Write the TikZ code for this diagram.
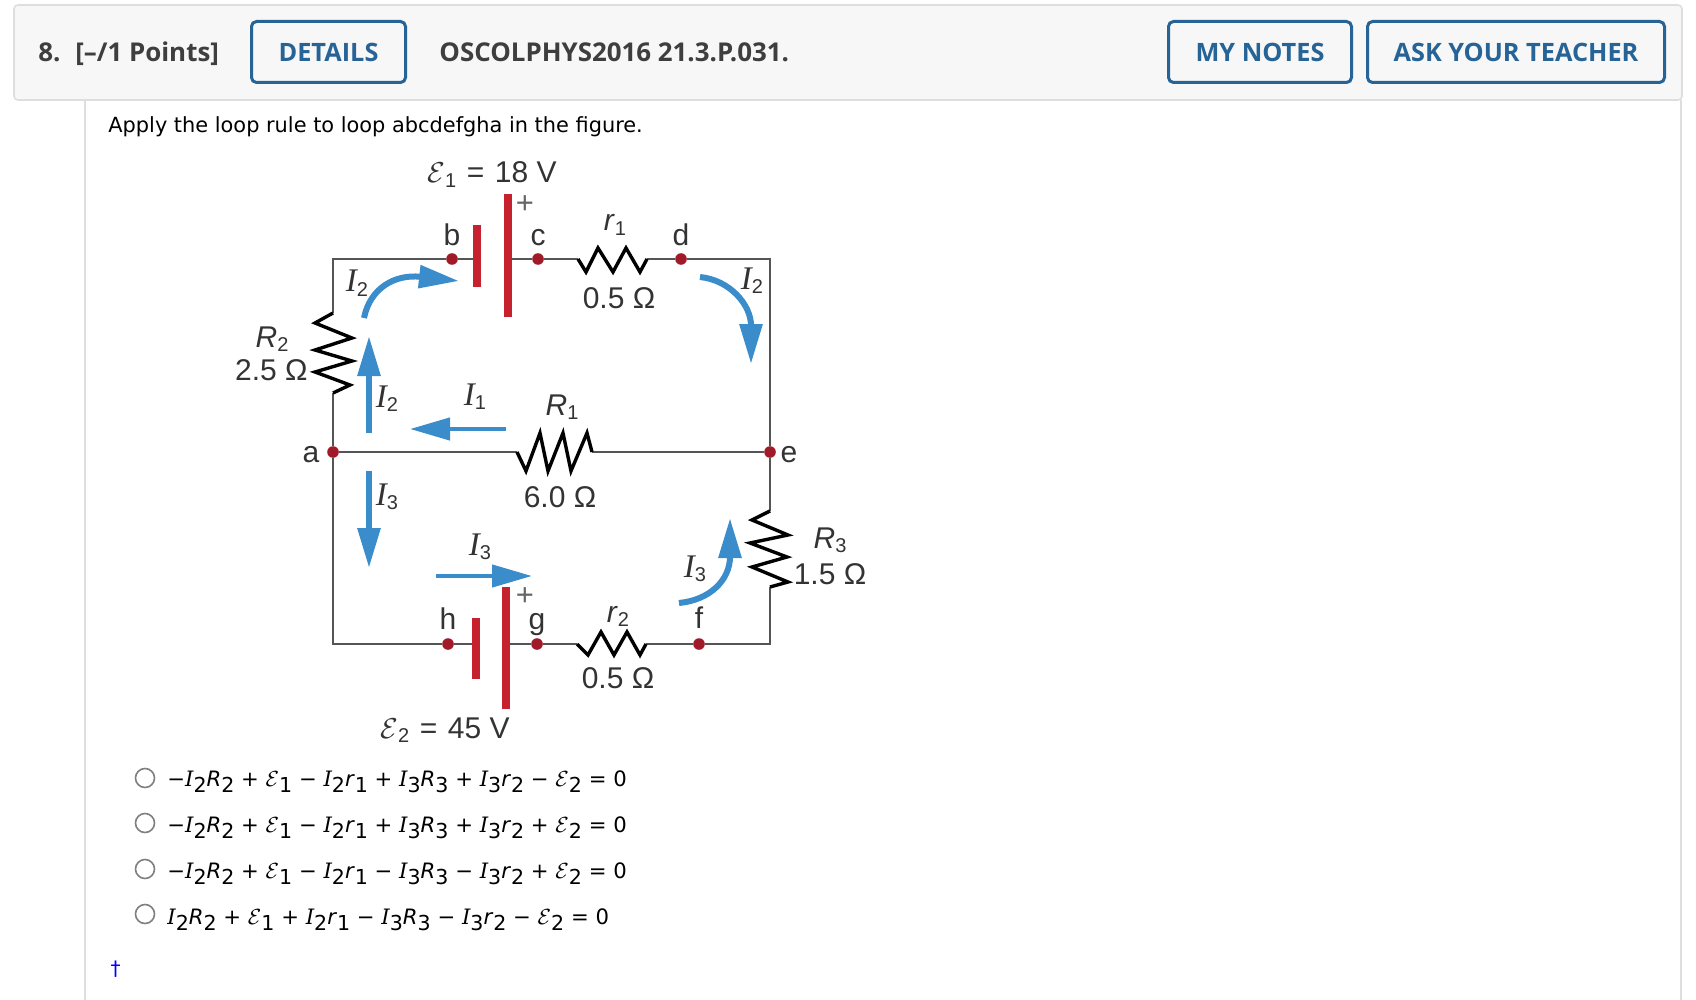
\documentclass[tikz,border=0pt]{standalone}
\usepackage{fontspec}
\setmainfont{Liberation Sans}
\newfontfamily\headfont{Open Sans}
\newfontfamily\bodyfont{DejaVu Sans}
\newfontfamily\eqIfont{DejaVu Serif}
\newfontfamily\labIfont{Liberation Serif}
\usetikzlibrary{arrows.meta}
\definecolor{panelgray}{HTML}{F7F7F7}
\definecolor{edgegray}{HTML}{DEDEDE}
\definecolor{btnblue}{HTML}{266396}
\definecolor{headgray}{HTML}{3E3E3E}
\definecolor{wiregray}{HTML}{555555}
\definecolor{platered}{HTML}{C5212F}
\definecolor{dotred}{HTML}{A11A2A}
\definecolor{currblue}{HTML}{3A8CCB}
\newcommand{\labsub}[1]{\raisebox{-0.3ex}{\fontsize{10}{11}\selectfont #1}}
\newcommand{\eqsub}[1]{\raisebox{-0.6ex}{\fontsize{10.3}{11}\selectfont #1}}
\newcommand{\scrE}{\ensuremath{\mathcal{E}}}
\newcommand{\labI}[1]{{\labIfont\itshape\fontsize{16.5}{17}\selectfont I}\labsub{#1}}
\newcommand{\Ieq}[1]{{\eqIfont\itshape I}\eqsub{#1}}
\newcommand{\Req}[1]{\textit{R}\eqsub{#1}}
\newcommand{\req}[1]{\textit{r}\eqsub{#1}}
\newcommand{\Eeq}[1]{\scrE\eqsub{#1}}
\begin{document}
\begin{tikzpicture}[x=0.5pt,y=-0.5pt,
  wire/.style={draw=wiregray,line width=1.35pt},
  zig/.style={draw=black,line width=1.7pt,line join=miter},
  dot/.style={circle,fill=dotred,minimum size=5.8pt,inner sep=0pt},
  plate/.style={rectangle,fill=platered,minimum width=4pt,inner sep=0pt},
  curr/.style={draw=currblue,line width=3pt,-{Triangle[length=20pt,width=11pt]}},
  lbl/.style={font=\fontsize{15}{16}\selectfont,text=black!80,inner sep=0pt},
  plusmark/.style={font=\fontsize{15.5}{16}\selectfont,text=black!60,inner sep=0pt},
  btn/.style={draw=btnblue,line width=1.5pt,rounded corners=2.5pt,text=btnblue,inner sep=0pt,
    minimum height=30.5pt,font=\headfont\bfseries\fontsize{12.65}{14}\selectfont},
  head/.style={anchor=base west,text=headgray,inner sep=0pt,font=\headfont\bfseries\fontsize{12.95}{14}\selectfont},
  eqn/.style={anchor=base west,inner sep=0pt,font=\bodyfont\fontsize{10.6}{13}\selectfont},
  radio/.style={circle,draw=black!50,line width=0.8pt,fill=white,minimum size=9.5pt,inner sep=0pt}]

  \useasboundingbox (0,0) rectangle (1696,1000);

  \draw[edgegray,line width=0.8pt] (85,100) -- (85,1000);
  \draw[edgegray,line width=0.8pt] (1681,100) -- (1681,1000);
  \draw[edgegray,fill=panelgray,line width=0.8pt,rounded corners=2pt] (14,5) rectangle (1682,100);

  \node[head] (qnum) at (38,62) {8.\hspace{0.57em}[–/1 Points]};
  \node[btn,minimum width=77pt] (details) at (328.5,52) {DETAILS};
  \node[head] (qcode) at (439,62) {OSCOLPHYS2016 21.3.P.031.};
  \node[btn,minimum width=91.5pt] (mynotes) at (1260,52) {MY NOTES};
  \node[btn,minimum width=148.5pt] (askteacher) at (1516,52) {ASK YOUR TEACHER};

  \node[anchor=base west,inner sep=0pt,font=\bodyfont\fontsize{10.44}{13}\selectfont] (prompt) at (108,133)
    {Apply the loop rule to loop abcdefgha in the figure.};

  \node[dot] (b) at (452,259) {};
  \node[dot] (c) at (538,259) {};
  \node[dot] (d) at (681,259) {};
  \node[dot] (a) at (333,452) {};
  \node[dot] (e) at (770,452) {};
  \node[dot] (f) at (699,644) {};
  \node[dot] (g) at (537,644) {};
  \node[dot] (h) at (448,644) {};

  \node[plate,minimum height=31pt] (minus1) at (477,256) {};
  \node[plate,minimum height=61.5pt] (plus1) at (508,255.5) {};
  \node[plate,minimum height=30.5pt] (minus2) at (476,648.5) {};
  \node[plate,minimum height=61pt] (plus2) at (506,648) {};

  \coordinate (R2in) at (333,393);
  \coordinate (R2out) at (333,313);
  \coordinate (r1in) at (578,259);
  \coordinate (r1out) at (647,259);
  \coordinate (R1in) at (517,452);
  \coordinate (R1out) at (592,452);
  \coordinate (R3in) at (770,511);
  \coordinate (R3out) at (770,587);
  \coordinate (r2in) at (646,644);
  \coordinate (r2out) at (577,644);
  \coordinate (cornerbr) at (770,644);
  \coordinate (cornerbl) at (333,644);

  \draw[wire] (a) -- (R2in);
  \draw[wire] (R2out) |- (b);
  \draw[wire] (b) -- (b -| minus1.west);
  \draw[wire] (plus1.east |- c) -- (c);
  \draw[wire] (c) -- (r1in);
  \draw[wire] (r1out) -- (d);
  \draw[wire] (d) -| (e);
  \draw[wire] (e) -- (R1out);
  \draw[wire] (R1in) -- (a);
  \draw[wire] (e) -- (R3in);
  \draw[wire] (R3out) -- (cornerbr) -- (f);
  \draw[wire] (f) -- (r2in);
  \draw[wire] (r2out) -- (g);
  \draw[wire] (g) -- (g -| plus2.east);
  \draw[wire] (minus2.west |- h) -- (h);
  \draw[wire] (h) -- (cornerbl) -- (a);

  \draw[zig] (R2in) -- ++(17,-8) -- ++(-35,-13) -- ++(37,-11) -- ++(-37,-11) -- ++(37,-12) -- ++(-37,-15) -- (R2out);
  \draw[zig] (r1in) -- ++(8,13) -- ++(12,-24) -- ++(15,24) -- ++(13,-24) -- ++(14,24) -- (r1out);
  \draw[zig] (R1in) -- ++(9,19) -- ++(14,-38) -- ++(8,38) -- ++(15,-38) -- ++(8,38) -- ++(16,-38) -- (R1out);
  \draw[zig] (R3in) -- ++(-18,9) -- ++(36,15) -- ++(-38,8) -- ++(37,14) -- ++(-35,10) -- ++(36,15) -- (R3out);
  \draw[zig] (r2in) -- ++(-6,11) -- ++(-13,-23) -- ++(-13,23) -- ++(-13,-23) -- ++(-13,23) -- (r2out);

  \coordinate (arrTLs) at (364,318);
  \coordinate (arrTLe) at (459,281);
  \coordinate (arrI2s) at (369,433);
  \coordinate (arrI2e) at (369,336);
  \coordinate (arrI1s) at (506,429);
  \coordinate (arrI1e) at (410,429);
  \coordinate (arrTRs) at (700,277);
  \coordinate (arrTRe) at (751,364);
  \coordinate (arrI3s) at (369,471);
  \coordinate (arrI3e) at (369,568);
  \coordinate (arrBMs) at (436,576);
  \coordinate (arrBMe) at (532,576);
  \coordinate (arrBRs) at (679,603);
  \coordinate (arrBRe) at (730,518);

  \draw[curr] (arrTLs) .. controls (370,288) and (395,274) .. (arrTLe);
  \draw[curr] (arrI2s) -- (arrI2e);
  \draw[curr,line width=2.2pt] (arrI1s) -- (arrI1e);
  \draw[curr] (arrTRs) .. controls (730,280) and (751,305) .. (arrTRe);
  \draw[curr] (arrI3s) -- (arrI3e);
  \draw[curr,line width=2.2pt] (arrBMs) -- (arrBMe);
  \draw[curr] (arrBRs) .. controls (710,600) and (730,580) .. (arrBRe);

  \node[lbl,anchor=base] (labE1) at (492,183) {\scrE\labsub{1}\hspace{0.35em}=\hspace{0.35em}18 V};
  \node[plusmark] (plusone) at (525,205) {+};
  \node[lbl,anchor=base] (labb) at (452,246) {b};
  \node[lbl,anchor=base] (labc) at (538,246) {c};
  \node[lbl,anchor=base] (labd) at (681,246) {d};
  \node[lbl,anchor=base] (labr1) at (615,231) {\textit{r}\labsub{1}};
  \node[lbl,anchor=base] (valr1) at (619,308) {0.5 Ω};
  \node[lbl,anchor=base] (labI2a) at (357,292) {\labI{2}};
  \node[lbl,anchor=base] (labI2b) at (387,407) {\labI{2}};
  \node[lbl,anchor=base] (labI2c) at (752,289) {\labI{2}};
  \node[lbl,anchor=base] (labI1) at (475,405) {\labI{1}};
  \node[lbl,anchor=base] (labR1) at (562,415) {\textit{R}\labsub{1}};
  \node[lbl,anchor=base] (labR2) at (272,347) {\textit{R}\labsub{2}};
  \node[lbl,anchor=base east] (valR2) at (308,380) {2.5 Ω};
  \node[lbl,anchor=base] (laba) at (311,462) {a};
  \node[lbl,anchor=base] (labe) at (789,462) {e};
  \node[lbl,anchor=base] (valR1) at (560,507) {6.0 Ω};
  \node[lbl,anchor=base] (labI3a) at (387,505) {\labI{3}};
  \node[lbl,anchor=base] (labI3b) at (480,555) {\labI{3}};
  \node[lbl,anchor=base] (labI3c) at (695,577) {\labI{3}};
  \node[lbl,anchor=base] (labR3) at (830,548) {\textit{R}\labsub{3}};
  \node[lbl,anchor=base] (valR3) at (830,584) {1.5 Ω};
  \node[plusmark] (plustwo) at (525,597) {+};
  \node[lbl,anchor=base] (labh) at (448,629) {h};
  \node[lbl,anchor=base] (labg) at (537,629) {g};
  \node[lbl,anchor=base] (labf) at (699,628) {f};
  \node[lbl,anchor=base] (labr2) at (618,622) {\textit{r}\labsub{2}};
  \node[lbl,anchor=base] (valr2) at (618,688) {0.5 Ω};
  \node[lbl,anchor=base] (labE2) at (445,738) {\scrE\labsub{2}\hspace{0.35em}=\hspace{0.35em}45 V};

  \node[radio] (opta) at (145,778) {};
  \node[radio] (optb) at (145,823) {};
  \node[radio] (optc) at (145,869) {};
  \node[radio] (optd) at (145,914) {};
  \node[eqn] (eqa) at (167,786) {−\Ieq{2}\Req{2} + \Eeq{1} − \Ieq{2}\req{1} + \Ieq{3}\Req{3} + \Ieq{3}\req{2} − \Eeq{2} = 0};
  \node[eqn] (eqb) at (167,832) {−\Ieq{2}\Req{2} + \Eeq{1} − \Ieq{2}\req{1} + \Ieq{3}\Req{3} + \Ieq{3}\req{2} + \Eeq{2} = 0};
  \node[eqn] (eqc) at (167,878) {−\Ieq{2}\Req{2} + \Eeq{1} − \Ieq{2}\req{1} − \Ieq{3}\Req{3} − \Ieq{3}\req{2} + \Eeq{2} = 0};
  \node[eqn] (eqd) at (167,924) {\Ieq{2}\Req{2} + \Eeq{1} + \Ieq{2}\req{1} − \Ieq{3}\Req{3} − \Ieq{3}\req{2} − \Eeq{2} = 0};

  \node[inner sep=0pt,text=blue,font=\bodyfont\fontsize{10}{12}\selectfont] (dagger) at (115.5,969) {†};
\end{tikzpicture}
\end{document}
